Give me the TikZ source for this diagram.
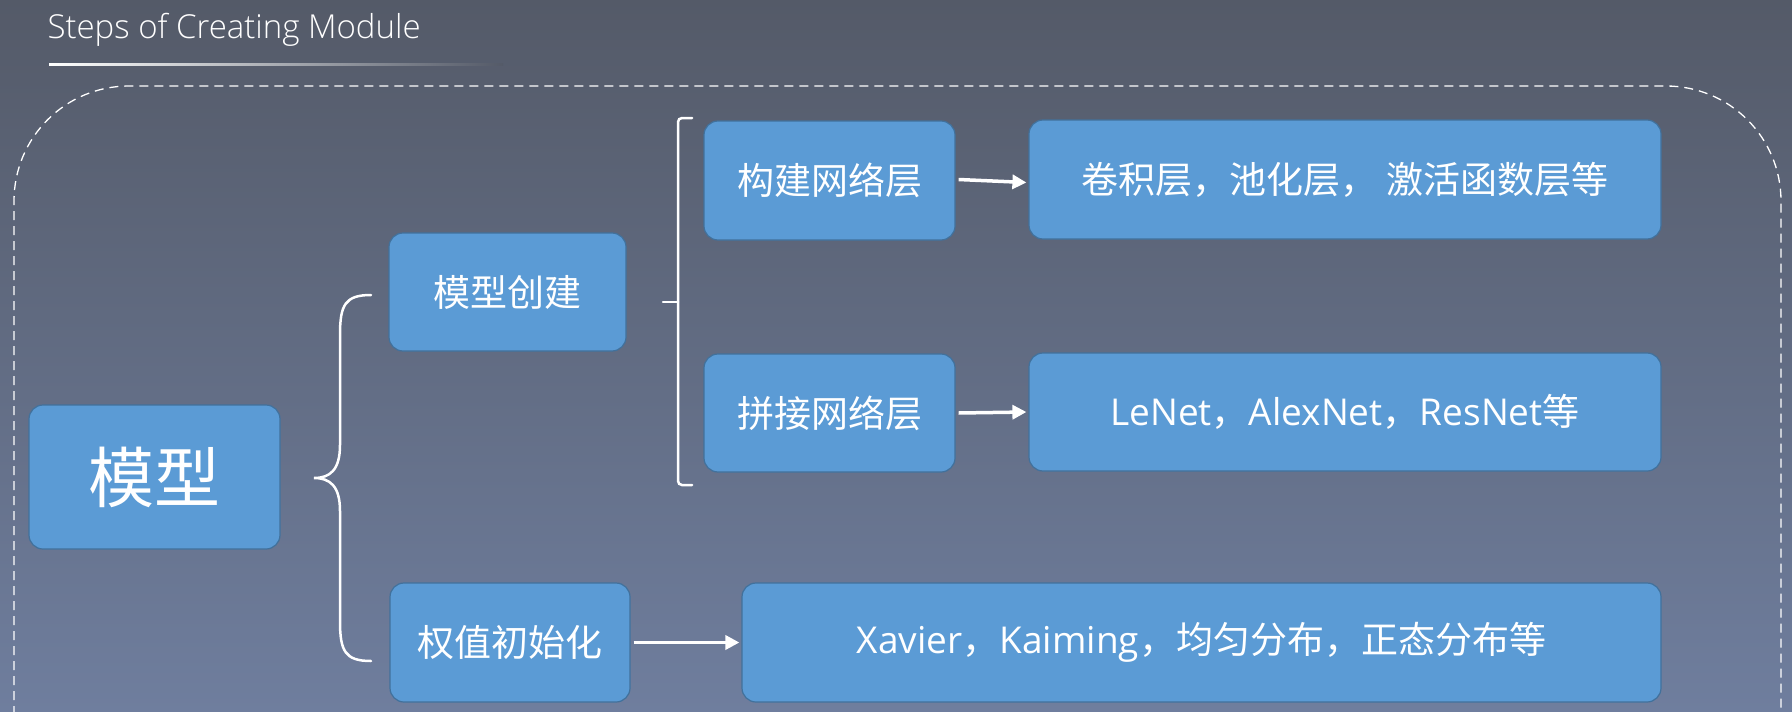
\documentclass[tikz,border=0pt]{standalone}
\usepackage{fontspec}
\setmainfont{Open Sans Light}
\newfontfamily\cjk{Noto Sans CJK SC}
\newfontfamily\osans{Open Sans}
\begin{document}
\begin{tikzpicture}[x=1pt,y=-1pt,
 box/.style={draw=boxb,line width=1.2pt,fill=boxf,rounded corners=14pt,text=white,font=\cjk\fontsize{37}{42}\selectfont,inner sep=0pt},
 arr/.style={white,line width=3.5pt,-{Triangle[length=14pt,width=14pt]}},
 brace/.style={white,line width=2.5pt,line cap=round}]
\usetikzlibrary{arrows.meta}
\definecolor{boxf}{HTML}{5B9BD5}\definecolor{boxb}{HTML}{41719C}
\definecolor{bgt}{HTML}{545A68}\definecolor{bgb}{HTML}{6F7E9E}
\shade[top color=bgt,bottom color=bgb] (0,0) rectangle (1792,712);
\useasboundingbox (0,0) rectangle (1792,712);
\node[anchor=west,text=white,font=\fontsize{33}{38}\selectfont] (title) at (44,30) {Steps of Creating Module};
\shade[left color=white,right color=bgt] (49,63) rectangle (503,65.5);
\draw[white,dash pattern=on 9pt off 6pt,line width=1.3pt,rounded corners=115pt] (14,730) -- (14,86) -- (1781,86) -- (1781,730);
\node[box,minimum width=251pt,minimum height=144pt,font=\cjk\fontsize{66}{72}\selectfont] (m) at (154.5,477) {模型};
\node[box,minimum width=237pt,minimum height=118pt] (mc) at (507.5,292) {模型创建};
\node[box,minimum width=240pt,minimum height=119pt] (wi) at (510,642.5) {权值初始化};
\node[box,minimum width=251pt,minimum height=119pt] (gj) at (829.5,180.5) {构建网络层};
\node[box,minimum width=251pt,minimum height=118pt] (pj) at (829.5,413) {拼接网络层};
\node[box,minimum width=632pt,minimum height=119pt] (jj) at (1345,179.5) {卷积层，池化层， 激活函数层等};
\node[box,minimum width=632pt,minimum height=118pt] (le) at (1345,412) {\osans LeNet{\cjk，}AlexNet{\cjk，}ResNet{\cjk 等}};
\node[box,minimum width=919pt,minimum height=119pt] (xa) at (1201.5,642.5) {\osans Xavier{\cjk，}Kaiming{\cjk，均匀分布，正态分布等}};
\draw[brace] (371,295) .. controls (345,295) and (340,305) .. (340,335) -- (340,445) .. controls (340,470) and (330,478) .. (314,478) .. controls (330,478) and (340,486) .. (340,511) -- (340,621) .. controls (340,651) and (345,661) .. (371,661);
\draw[brace,rounded corners=4pt] (692,118) -- (678,118) -- (678,485) -- (692,485);
\draw[brace] (678,302) -- (663,302);
\draw[arr] ([xshift=3pt,yshift=1pt]gj.east) -- ([xshift=-2pt,yshift=-3pt]jj.west);
\draw[arr] ([xshift=3pt]pj.east) -- ([xshift=-2pt]le.west);
\draw[arr] ([xshift=3pt]wi.east) -- ([xshift=-2pt]xa.west);
\end{tikzpicture}
\end{document}
